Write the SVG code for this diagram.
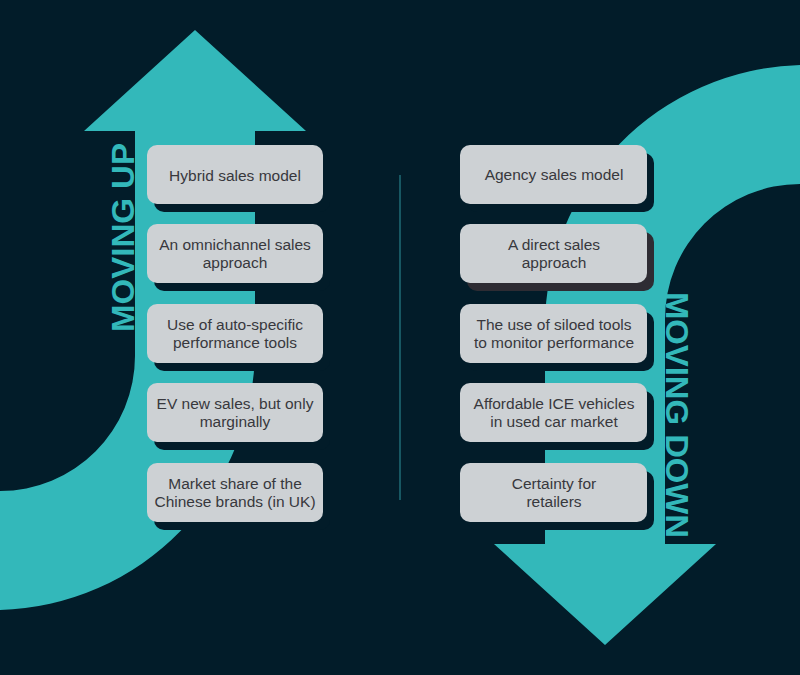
<svg xmlns="http://www.w3.org/2000/svg" width="800" height="675" viewBox="0 0 800 675">
<defs>
<style>
.bg{fill:#021c29}
.arrow{fill:#33b8ba}
.shadow{fill:#021c29}
.shadow2{fill:#2e2c33}
.box{fill:#cdd1d4}
.t{font-family:"Liberation Sans",Arial,sans-serif;font-size:15.5px;fill:#38383d;text-anchor:middle}
.big{font-family:"Liberation Sans",Arial,sans-serif;font-weight:bold;font-size:32px;fill:#33b8ba;text-anchor:middle}
.divider{stroke:#1f6b76;stroke-width:1.5;fill:none}
</style>
<path id="arrowShape" d="M135 356 L135 131 L84 131 L195 30 L306 131 L255 131 L255 348 A262 262 0 0 1 0 610 L0 491 A135 135 0 0 0 135 356 Z"/>
</defs>
<rect class="bg" x="0" y="0" width="800" height="675"/>
<g id="arrow-up"><use href="#arrowShape" class="arrow"/></g>
<g id="arrow-down"><use href="#arrowShape" class="arrow" transform="rotate(180 400 337.5)"/></g>
<g id="connectors"><line class="divider" x1="400" y1="175" x2="400" y2="500"/></g>
<g id="label-up"><text class="big" transform="translate(133.5 237.5) rotate(-90)" textLength="189" lengthAdjust="spacingAndGlyphs">MOVING UP</text></g>
<g id="label-down"><text class="big" transform="translate(665.5 415) rotate(90)" textLength="246" lengthAdjust="spacingAndGlyphs">MOVING DOWN</text></g>

<g id="l1"><rect class="shadow" x="154" y="153" width="176" height="59" rx="10"/><rect class="box" x="147" y="145" width="176" height="59" rx="10"/><text class="t" x="235" y="180.5">Hybrid sales model</text></g>
<g id="l2"><rect class="shadow" x="154" y="232" width="176" height="59" rx="10"/><rect class="box" x="147" y="224" width="176" height="59" rx="10"/><text class="t" x="235" y="250">An omnichannel sales</text><text class="t" x="235" y="267.5">approach</text></g>
<g id="l3"><rect class="shadow" x="154" y="312" width="176" height="59" rx="10"/><rect class="box" x="147" y="304" width="176" height="59" rx="10"/><text class="t" x="235" y="330">Use of auto-specific</text><text class="t" x="235" y="347.5">performance tools</text></g>
<g id="l4"><rect class="shadow" x="154" y="391" width="176" height="59" rx="10"/><rect class="box" x="147" y="383" width="176" height="59" rx="10"/><text class="t" x="235" y="409">EV new sales, but only</text><text class="t" x="235" y="426.5">marginally</text></g>
<g id="l5"><rect class="shadow" x="154" y="471" width="176" height="59" rx="10"/><rect class="box" x="147" y="463" width="176" height="59" rx="10"/><text class="t" x="235" y="489">Market share of the</text><text class="t" x="235" y="506.5">Chinese brands (in UK)</text></g>

<g id="r1"><rect class="shadow" x="467" y="153" width="187" height="59" rx="10"/><rect class="box" x="460" y="145" width="187" height="59" rx="10"/><text class="t" x="554" y="180">Agency sales model</text></g>
<g id="r2"><rect class="shadow2" x="467" y="232" width="187" height="59" rx="10"/><rect class="box" x="460" y="224" width="187" height="59" rx="10"/><text class="t" x="554" y="250">A direct sales</text><text class="t" x="554" y="267.5">approach</text></g>
<g id="r3"><rect class="shadow" x="467" y="312" width="187" height="59" rx="10"/><rect class="box" x="460" y="304" width="187" height="59" rx="10"/><text class="t" x="554" y="330">The use of siloed tools</text><text class="t" x="554" y="347.5">to monitor performance</text></g>
<g id="r4"><rect class="shadow" x="467" y="391" width="187" height="59" rx="10"/><rect class="box" x="460" y="383" width="187" height="59" rx="10"/><text class="t" x="554" y="409">Affordable ICE vehicles</text><text class="t" x="554" y="426.5">in used car market</text></g>
<g id="r5"><rect class="shadow" x="467" y="471" width="187" height="59" rx="10"/><rect class="box" x="460" y="463" width="187" height="59" rx="10"/><text class="t" x="554" y="489">Certainty for</text><text class="t" x="554" y="506.5">retailers</text></g>
</svg>
